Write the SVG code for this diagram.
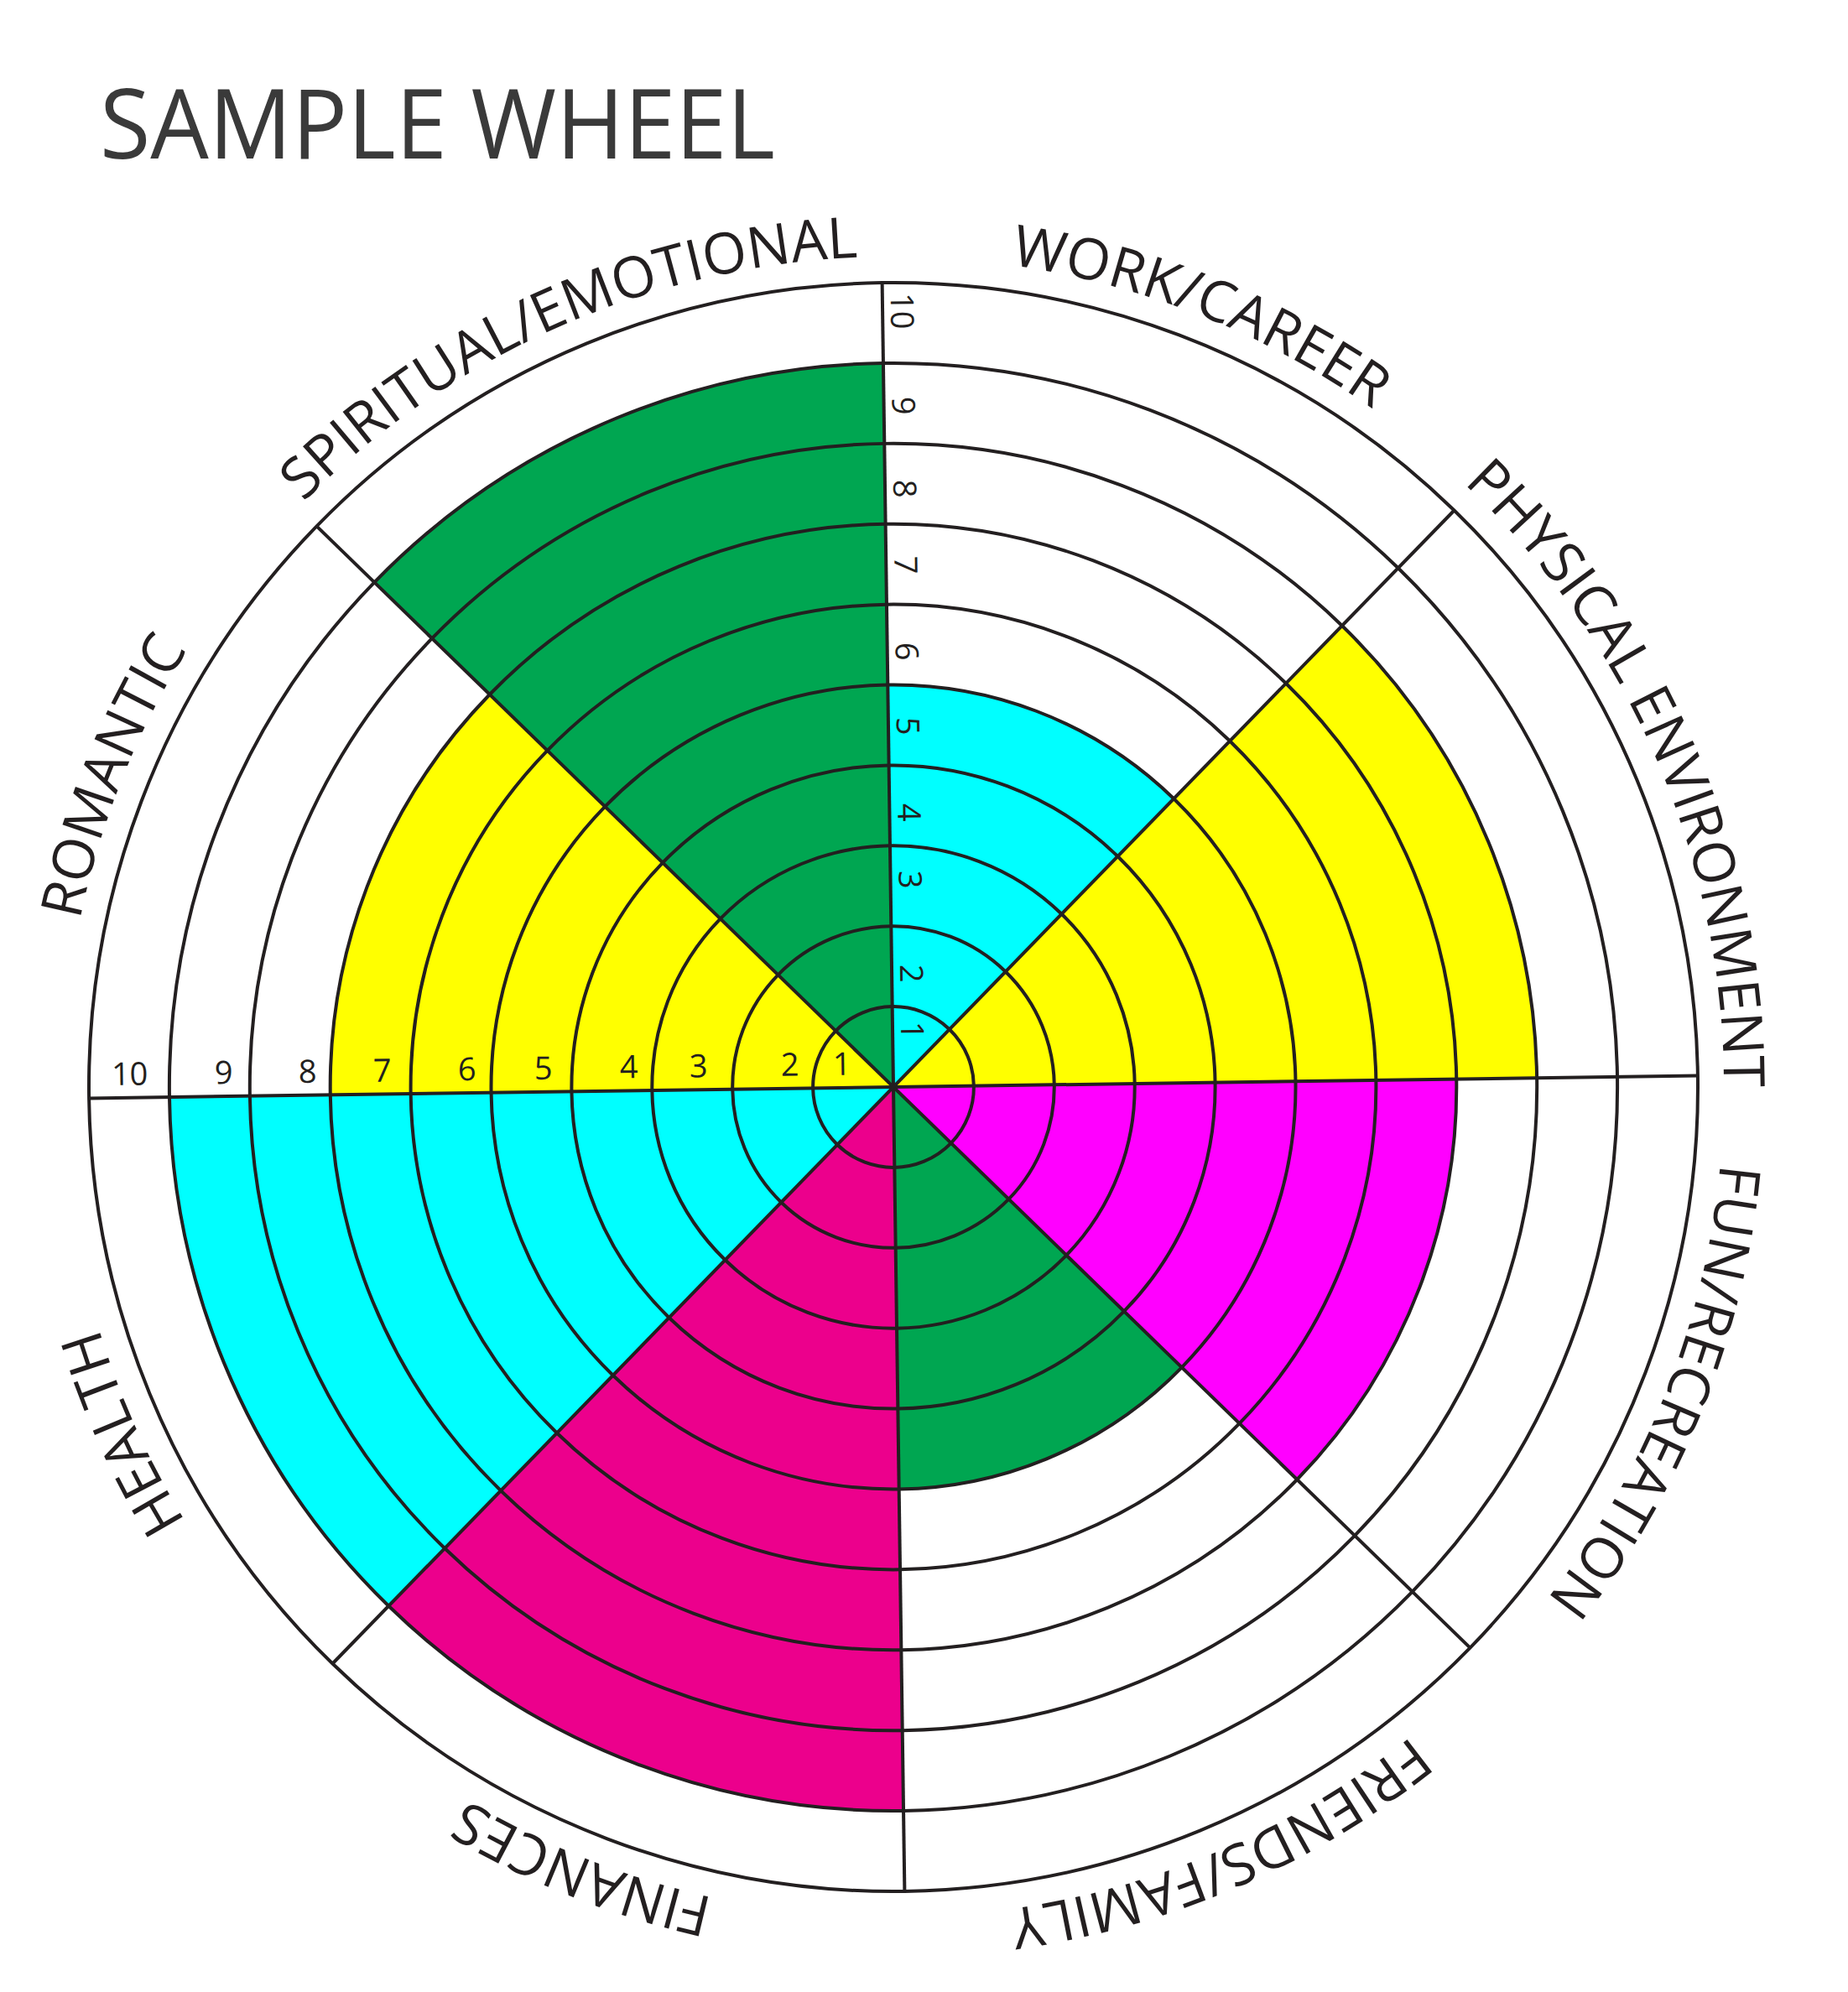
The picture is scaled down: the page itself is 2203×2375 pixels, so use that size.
<svg xmlns="http://www.w3.org/2000/svg" xmlns:xlink="http://www.w3.org/1999/xlink" width="2203" height="2375" viewBox="0 0 2203 2375">
<style>
.ln{fill:none;stroke:#231f20;stroke-width:4}
.sec{stroke:none}
.num{font-family:"Open Sans","Liberation Sans",sans-serif;font-size:38px;fill:#231f20;text-anchor:middle}
.lab{font-family:"Open Sans","Liberation Sans",sans-serif;font-size:68px;fill:#231f20;text-anchor:middle}
</style>
<defs>
<path id="ring" d="M1065,306 A990,990 0 1 1 1065,2286 A990,990 0 1 1 1065,306"/>
</defs>
<rect width="2203" height="2375" fill="#fff"/>
<text x="119" y="189" font-family="'Open Sans','Liberation Sans',sans-serif" font-size="115" fill="#3a3a3a" textLength="805" lengthAdjust="spacingAndGlyphs">SAMPLE WHEEL</text>
<g transform="rotate(-0.8 1065 1296)">
<g id="sectors">
<path class="sec" fill="#00FFFF" d="M1065,1296 L1065,816.5 A479.5,479.5 0 0 1 1404.1,956.9 Z"/>
<path class="sec" fill="#FFFF00" d="M1065,1296 L1607.5,753.5 A767.2,767.2 0 0 1 1832.2,1296 Z"/>
<path class="sec" fill="#FF00FF" d="M1065,1296 L1736.3,1296 A671.3,671.3 0 0 1 1539.7,1770.7 Z"/>
<path class="sec" fill="#00A651" d="M1065,1296 L1404.1,1635.1 A479.5,479.5 0 0 1 1065,1775.5 Z"/>
<path class="sec" fill="#EC008C" d="M1065,1296 L1065,2159.1 A863.1,863.1 0 0 1 454.7,1906.3 Z"/>
<path class="sec" fill="#00FFFF" d="M1065,1296 L454.7,1906.3 A863.1,863.1 0 0 1 201.9,1296 Z"/>
<path class="sec" fill="#FFFF00" d="M1065,1296 L393.7,1296 A671.3,671.3 0 0 1 590.3,821.3 Z"/>
<path class="sec" fill="#00A651" d="M1065,1296 L454.7,685.7 A863.1,863.1 0 0 1 1065,432.9 Z"/>
</g>
<g id="connectors">
<circle class="ln" cx="1065" cy="1296" r="95.9"/>
<circle class="ln" cx="1065" cy="1296" r="191.8"/>
<circle class="ln" cx="1065" cy="1296" r="287.7"/>
<circle class="ln" cx="1065" cy="1296" r="383.6"/>
<circle class="ln" cx="1065" cy="1296" r="479.5"/>
<circle class="ln" cx="1065" cy="1296" r="575.4"/>
<circle class="ln" cx="1065" cy="1296" r="671.3"/>
<circle class="ln" cx="1065" cy="1296" r="767.2"/>
<circle class="ln" cx="1065" cy="1296" r="863.1"/>
<circle class="ln" cx="1065" cy="1296" r="959"/>
<line class="ln" x1="1065" y1="337" x2="1065" y2="2255"/>
<line class="ln" x1="106" y1="1296" x2="2024" y2="1296"/>
<line class="ln" x1="386.9" y1="617.9" x2="1743.1" y2="1974.1"/>
<line class="ln" x1="1743.1" y1="617.9" x2="386.9" y2="1974.1"/>
</g>
<g id="scale-top">
<text class="num" transform="translate(1075,371) rotate(90)">10</text>
<text class="num" transform="translate(1075,484) rotate(90)">9</text>
<text class="num" transform="translate(1075,583) rotate(90)">8</text>
<text class="num" transform="translate(1075,674) rotate(90)">7</text>
<text class="num" transform="translate(1075,777) rotate(90)">6</text>
<text class="num" transform="translate(1075,866) rotate(90)">5</text>
<text class="num" transform="translate(1075,969) rotate(90)">4</text>
<text class="num" transform="translate(1075,1049) rotate(90)">3</text>
<text class="num" transform="translate(1075,1161) rotate(90)">2</text>
<text class="num" transform="translate(1075,1229) rotate(90)">1</text>
</g>
<g id="scale-left">
<text class="num" x="155" y="1281">10</text>
<text class="num" x="267" y="1281">9</text>
<text class="num" x="367" y="1281">8</text>
<text class="num" x="456" y="1281">7</text>
<text class="num" x="557" y="1281">6</text>
<text class="num" x="648" y="1281">5</text>
<text class="num" x="750" y="1281">4</text>
<text class="num" x="833" y="1281">3</text>
<text class="num" x="942" y="1281">2</text>
<text class="num" x="1004" y="1281">1</text>
</g>
<g id="labels">
<text class="lab"><textPath href="#ring" xlink:href="#ring" startOffset="6.25%">WORK/CAREER</textPath></text>
<text class="lab"><textPath href="#ring" xlink:href="#ring" startOffset="18.75%">PHYSICAL ENVIRONMENT</textPath></text>
<text class="lab"><textPath href="#ring" xlink:href="#ring" startOffset="31.25%">FUN/RECREATION</textPath></text>
<text class="lab"><textPath href="#ring" xlink:href="#ring" startOffset="43.75%">FRIENDS/FAMILY</textPath></text>
<text class="lab"><textPath href="#ring" xlink:href="#ring" startOffset="56.25%">FINANCES</textPath></text>
<text class="lab"><textPath href="#ring" xlink:href="#ring" startOffset="68.5%">HEALTH</textPath></text>
<text class="lab"><textPath href="#ring" xlink:href="#ring" startOffset="81.25%">ROMANTIC</textPath></text>
<text class="lab"><textPath href="#ring" xlink:href="#ring" startOffset="93.6%">SPIRITUAL/EMOTIONAL</textPath></text>
</g>
</g>
</svg>
